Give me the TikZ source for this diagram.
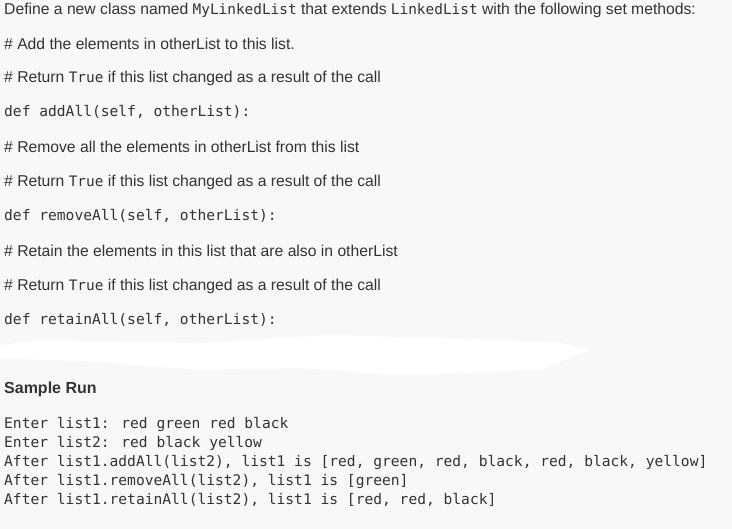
\documentclass[tikz,border=0pt]{standalone}
\usepackage{fontspec}
\setmainfont{Liberation Sans}
\newfontfamily\codefont{DejaVu Sans Mono}
\definecolor{txt}{HTML}{333333}
\definecolor{bg}{HTML}{F8F8F8}
\begin{document}
\begin{tikzpicture}[x=1pt,y=-1pt,
  prose/.style={anchor=west,inner sep=0pt,text=txt,font=\fontsize{15.7}{18}\selectfont},
  code/.style={anchor=west,inner sep=0pt,text=txt,font=\codefont\fontsize{14.6}{17}\selectfont},
  head/.style={anchor=west,inner sep=0pt,text=txt,font=\bfseries\fontsize{16}{19}\selectfont}]
\fill[bg] (0,0) rectangle (732,529);
\useasboundingbox (0,0) rectangle (732,529);
\fill[white] (0,345) -- (40,340) -- (200,343) -- (330,335) -- (560,342) -- (590,350) -- (570,358) -- (540,370) -- (400,375) -- (300,368) -- (200,370) -- (100,362) -- (0,358) -- cycle;
\newcommand{\cw}[1]{{\codefont\fontsize{14.4}{17}\selectfont #1}}
\node[prose] (l1) at (4,10) {Define a new class named \cw{MyLinkedList} that extends \cw{LinkedList} with the following set methods:};
\node[prose] (l2) at (4,44) {\# Add the elements in otherList to this list.};
\node[prose] (l3) at (4,78) {\# Return \cw{True} if this list changed as a result of the call};
\node[code] (l4) at (4,112) {def addAll(self, otherList):};
\node[prose] (l5) at (4,147) {\# Remove all the elements in otherList from this list};
\node[prose] (l6) at (4,182) {\# Return \cw{True} if this list changed as a result of the call};
\node[code] (l7) at (4,216) {def removeAll(self, otherList):};
\node[prose] (l8) at (4,251) {\# Retain the elements in this list that are also in otherList};
\node[prose] (l9) at (4,286) {\# Return \cw{True} if this list changed as a result of the call};
\node[code] (l10) at (4,320) {def retainAll(self, otherList):};
\node[head] (h) at (4,389) {Sample Run};
\node[code] (s1) at (4,424) {Enter list1: red green red black};
\node[code] (s2) at (4,443) {Enter list2: red black yellow};
\node[code] (s3) at (4,462) {After list1.addAll(list2), list1 is [red, green, red, black, red, black, yellow]};
\node[code] (s4) at (4,481) {After list1.removeAll(list2), list1 is [green]};
\node[code] (s5) at (4,500) {After list1.retainAll(list2), list1 is [red, red, black]};
\end{tikzpicture}
\end{document}
